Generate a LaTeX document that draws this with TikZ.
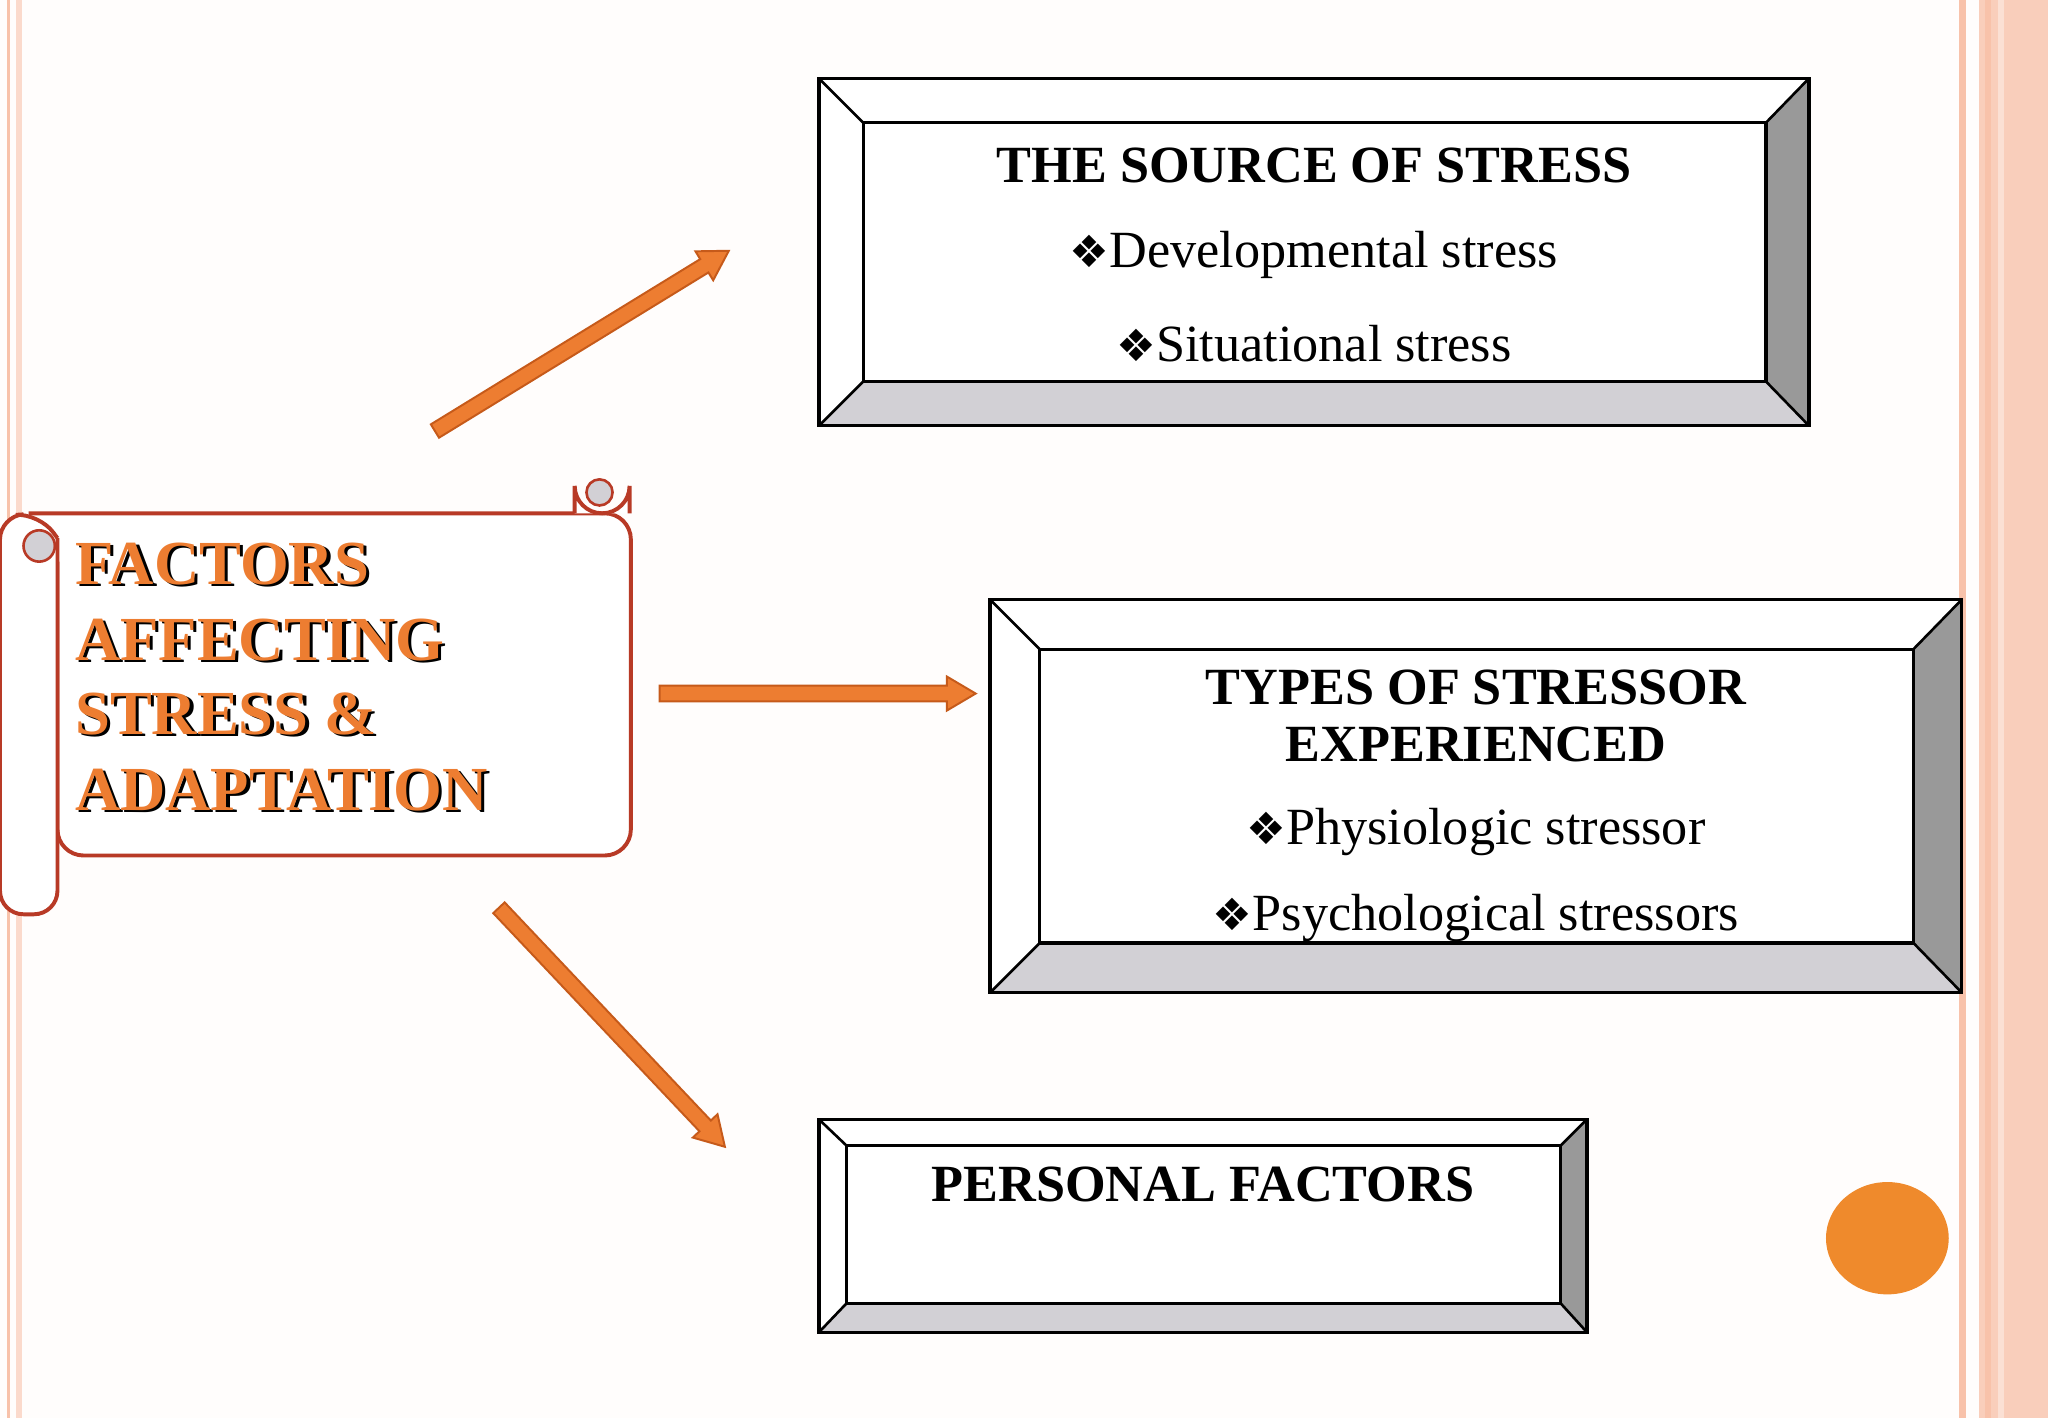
\documentclass[tikz,border=0pt]{standalone}
\usepackage{fontspec}
\setmainfont{Liberation Serif}
\newfontfamily\symfont{DejaVu Sans}
\usetikzlibrary{calc}
\definecolor{sal}{HTML}{F8C2AA}
\definecolor{arr}{HTML}{ED7D31}
\definecolor{arrd}{HTML}{C65A1A}
\definecolor{scr}{HTML}{B83A26}
\definecolor{gry}{HTML}{999999}
\definecolor{lgry}{HTML}{D2D0D5}
\newcommand{\dia}{{\symfont\fontsize{34}{34}\selectfont ❖}}
\newcommand{\barrow}[2]{%
 \coordinate (hb) at ($(#2)!22pt!(#1)$);
 \fill[arr,draw=arrd,line width=1.5pt]
  ($(#1)!6pt!90:(#2)$) -- ($(hb)!6pt!-90:(#1)$) -- ($(hb)!13pt!-90:(#1)$) -- (#2)
  -- ($(hb)!13pt!90:(#1)$) -- ($(hb)!6pt!90:(#1)$) -- ($(#1)!6pt!-90:(#2)$) -- cycle;}
\newcommand{\bbox}[9]{% name x1 y1 x2 y2 ix1 iy1 ix2 iy2
 \fill[white] (#2,#3) rectangle (#4,#5);
 \fill[gry] (#4,#3) -- (#8,#7) -- (#8,#9) -- (#4,#5) -- cycle;
 \fill[lgry] (#2,#5) -- (#6,#9) -- (#8,#9) -- (#4,#5) -- cycle;
 \draw[line width=2.5pt] (#2,#3) rectangle (#4,#5);
 \draw[line width=2.5pt] (#6,#7) rectangle (#8,#9);
 \draw[line width=2pt] (#2,#3)--(#6,#7) (#4,#3)--(#8,#7) (#2,#5)--(#6,#9) (#4,#5)--(#8,#9);
 \coordinate (#1) at (#6,#7);}
\tikzset{hd/.style={font=\bfseries\fontsize{40}{44}\selectfont,align=center},
 it/.style={font=\fontsize{40}{44}\selectfont},
 big/.style={font=\bfseries\fontsize{48}{54}\selectfont,anchor=west,text=arr}}
\begin{document}
\begin{tikzpicture}[x=1pt,y=-1pt]
\fill[white!97!sal] (0,0) rectangle (1568,1086);
\useasboundingbox (0,0) rectangle (1568,1086);
% borders
\fill[sal] (5,0) rectangle (8,1086);
\fill[sal!60] (12,0) rectangle (17,1086);
\fill[sal] (1500,0) rectangle (1505,1086);
\fill[sal!80] (1515,0) rectangle (1568,1086);
\fill[sal] (1520,0) rectangle (1524,1086);
\fill[sal!50] (1530,0) rectangle (1534,1086);
\fill[white!97!sal] (1505,0) rectangle (1515,1086);
% circle
\fill[arr!90!yellow] (1445,948) ellipse [x radius=47, y radius=43];
% boxes
\bbox{b1}{627}{60}{1385}{326}{661}{94}{1352}{292}
\bbox{b2}{758}{459}{1502}{760}{796}{497}{1465}{722}
\bbox{b3}{627}{857}{1215}{1020}{648}{877}{1195}{998}
\node[hd] (t1) at (1006,127) {THE SOURCE OF STRESS};
\node[it] (t1a) at (1006,195) {\dia Developmental stress};
\node[it] (t1b) at (1006,263) {\dia Situational stress};
\node[hd] (t2) at (1130,548) {TYPES OF STRESSOR\\EXPERIENCED};
\node[it] (t2a) at (1130,637) {\dia Physiologic stressor};
\node[it] (t2b) at (1130,703) {\dia Psychological stressors};
\node[hd] (t3) at (921,907) {PERSONAL FACTORS};
% scroll
\draw[scr,line width=3pt,fill=white,rounded corners=20] (22,393) -- (483,393) -- (483,655) -- (44,655) -- (44,430);
\draw[scr,line width=3pt,fill=white] (440,393) -- (440,372) arc[start angle=180,end angle=0,radius=21] -- (482,393);
\fill[lgry,draw=scr,line width=2pt] (459,377) circle (10);
\draw[scr,line width=3pt,fill=white,rounded corners=18] (44,412) -- (44,700) -- (0,700) -- (0,395) -- (30,393) -- (44,412);
\fill[lgry,draw=scr,line width=2pt] (30,418) circle (12);
\foreach \t/\y in {FACTORS/432,AFFECTING/490,STRESS \&/547,ADAPTATION/605}{
 \node[big,text=black] at (56.5,\y+1.5) {\t};
 \node[big] at (54,\y) {\t};}
% arrows
\coordinate (a1) at (333,330); \coordinate (a1e) at (558,192);
\coordinate (a2) at (505,531); \coordinate (a2e) at (747,531);
\coordinate (a3) at (382,695); \coordinate (a3e) at (555,878);
\barrow{a1}{a1e}
\barrow{a2}{a2e}
\barrow{a3}{a3e}
\end{tikzpicture}
\end{document}
